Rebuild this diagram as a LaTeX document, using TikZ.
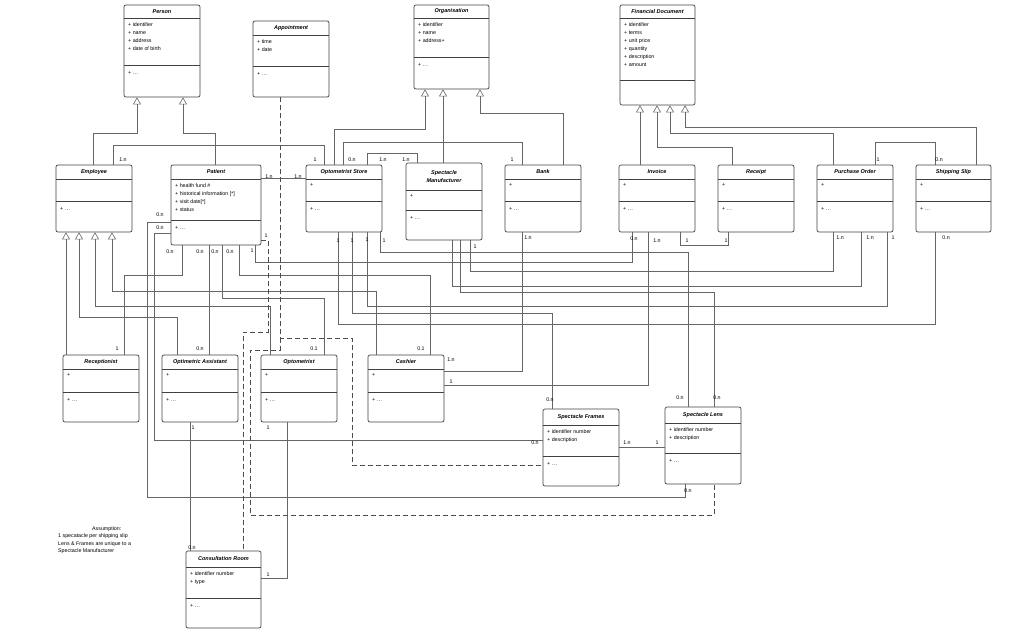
\documentclass[tikz,border=0pt]{standalone}
\usepackage{fontspec}
\setmainfont{Liberation Sans}
\usetikzlibrary{arrows.meta,fit}
\begin{document}
\begin{tikzpicture}[x=1pt,y=-1pt,
  box/.style={draw=black!75,line width=0.7pt,rounded corners=2pt,inner sep=0pt},
  ttl/.style={font=\fontsize{5.5}{7.5}\selectfont\bfseries\itshape,align=center},
  txt/.style={font=\fontsize{5.3}{8}\selectfont,align=left,anchor=north west,inner sep=0pt},
  lbl/.style={font=\fontsize{5.3}{6}\selectfont,inner sep=0.5pt},
  as/.style={draw=black!60,line width=0.6pt},
  gen/.style={draw=black!60,line width=0.6pt,-{Triangle[open,length=7pt,width=8pt]}},
  dsh/.style={draw=black!70,line width=0.6pt,dash pattern=on 5pt off 3pt}]
\useasboundingbox (0,0) rectangle (1024,635);
\newcommand\At{}
\newcommand\cls[9]{%
  \node[box,fit={(#2,#3)(#4,#5)}] (#1) {};
  \draw[black!75,line width=0.6pt] (#2,#6) -- (#4,#6) (#2,#7) -- (#4,#7);
  \node[ttl] at ({(#2+#4)/2},{(#3+#6)/2}) {#8};
  \node[txt] at (#2+4,#6+4) {\At};
  \node[txt] at (#2+4,#7+6) {#9};}
\renewcommand\At{+ identifier\\+ name\\+ address\\+ date of birth}
\cls{Person}{124}{5}{200}{97}{18}{65}{Person}{+ \dots}
\renewcommand\At{+ time\\+ date}
\cls{Appt}{253}{21}{329}{97}{35}{66}{Appointment}{+ \dots}
\renewcommand\At{+ identifier\\+ name\\+ address+}
\cls{Org}{414}{5}{489}{89}{18}{57}{Organisation}{+ \dots}
\renewcommand\At{+ identifier\\+ terms\\+ unit price\\+ quantity\\+ description\\+ amount}
\cls{Fin}{620}{5}{695}{105}{18}{80}{Financial Document}{}
\renewcommand\At{}
\cls{Employee}{56}{165}{132}{232}{179}{201}{Employee}{+ \dots}
\renewcommand\At{+ health fund \#\\+ historical information [*]\\+ visit date[*]\\+ status}
\cls{Patient}{171}{165}{261}{245}{179}{220}{Patient}{+ \dots}
\renewcommand\At{+}
\cls{Store}{306}{165}{382}{232}{179}{201}{Optometrist Store}{+ \dots}
\cls{Manu}{406}{163}{482}{240}{190}{210}{Spectacle\\Manufacturer}{+ \dots}
\cls{Bank}{505}{165}{581}{232}{179}{201}{Bank}{+ \dots}
\cls{Invoice}{619}{165}{695}{232}{179}{201}{Invoice}{+ \dots}
\cls{Receipt}{718}{165}{794}{232}{179}{201}{Receipt}{+ \dots}
\cls{PO}{817}{165}{893}{232}{179}{201}{Purchase Order}{+ \dots}
\cls{Ship}{916}{165}{991}{232}{179}{201}{Shipping Slip}{+ \dots}
\cls{Recep}{63}{355}{139}{422}{369}{392}{Receptionist}{+ \dots}
\cls{OA}{162}{355}{238}{422}{369}{392}{Optimetric Assistant}{+ \dots}
\cls{Optom}{261}{355}{337}{422}{369}{392}{Optometrist}{+ \dots}
\cls{Cashier}{368}{355}{444}{422}{369}{392}{Cashier}{+ \dots}
\renewcommand\At{+ identifier number\\+ description}
\cls{Frames}{543}{409}{619}{486}{425}{456}{Spectacle Frames}{+ \dots}
\cls{Lens}{665}{407}{741}{484}{423}{453}{Spectacle Lens}{+ \dots}
\renewcommand\At{+ identifier number\\+ type}
\cls{Room}{186}{551}{261}{628}{567}{598}{Consultation Room}{+ \dots}
% generalisations
\draw[gen] (Employee.north -| 93,0) |- (137,133) -- (Person.south -| 137,0);
\draw[gen] (Patient.north -| 215,0) |- (183,133) -- (Person.south -| 183,0);
\draw[gen] (Store.north -| 334,0) |- (425,129) -- (Org.south -| 425,0);
\draw[gen] (Manu.north -| 443,0) -- (Org.south -| 443,0);
\draw[gen] (Bank.north -| 563,0) |- (480,113) -- (Org.south -| 480,0);
\draw[gen] (Invoice.north -| 640,0) -- (Fin.south -| 640,0);
\draw[gen] (Receipt.north -| 732,0) |- (657,147) -- (Fin.south -| 657,0);
\draw[gen] (PO.north -| 833,0) |- (670,133) -- (Fin.south -| 670,0);
\draw[gen] (Ship.north -| 976,0) |- (685,127) -- (Fin.south -| 685,0);
\draw[gen] (Recep.north -| 66,0) -- (Employee.south -| 66,0);
\draw[gen] (OA.north -| 177,0) |- (79,317) -- (Employee.south -| 79,0);
\draw[gen] (Optom.north -| 270,0) |- (95,306) -- (Employee.south -| 95,0);
\draw[gen] (Cashier.north -| 376,0) |- (112,291) -- (Employee.south -| 112,0);
% associations
\draw[as] (Employee.north -| 113,0) |- (324,145) -- (Store.north -| 324,0);
\node[lbl] at (123,160) {1.n}; \node[lbl] at (315,160) {1};
\draw[as] (Store.north -| 343,0) |- (522,142) -- (Bank.north -| 522,0);
\node[lbl] at (352,160) {0.n}; \node[lbl] at (512,160) {1};
\draw[as] (Store.north -| 367,0) |- (417,153) -- (Manu.north -| 417,0);
\node[lbl] at (383,160) {1.n}; \node[lbl] at (406,160) {1.n};
\draw[as] (PO.north -| 875,0) |- (935,142) -- (Ship.north -| 935,0);
\node[lbl] at (878,160) {1}; \node[lbl] at (939,160) {0.n};
\draw[as] (Patient.east |- 0,178) -- (Store.west |- 0,178);
\node[lbl] at (269,177) {1.n}; \node[lbl] at (298,177) {1.n};
\draw[as] (Patient.south -| 182,0) |- (124,275) -- (Recep.north -| 124,0);
\node[lbl] at (170,252) {0.n}; \node[lbl] at (117,349) {1};
\draw[as] (Patient.south -| 209,0) -- (OA.north -| 209,0);
\node[lbl] at (200,252) {0.n}; \node[lbl] at (200,349) {0.n};
\draw[as] (Patient.south -| 222,0) |- (324,298) -- (Optom.north -| 324,0);
\node[lbl] at (215,252) {0.n}; \node[lbl] at (314,349) {0.1};
\draw[as] (Patient.south -| 239,0) |- (430,275) -- (Cashier.north -| 430,0);
\node[lbl] at (230,252) {0.n}; \node[lbl] at (421,349) {0.1};
\draw[as] (Patient.south -| 255,0) |- (632,262) -- (Invoice.south -| 632,0);
\node[lbl] at (252,251) {1}; \node[lbl] at (634,239) {0.n};
\draw[as] (Patient.west |- 0,222) -| (147,497) -| (Lens.south -| 685,0);
\node[lbl] at (160,215) {0.n}; \node[lbl] at (688,491) {0.n};
\draw[as] (Patient.west |- 0,233) -| (154,440) -- (Frames.west |- 0,440);
\node[lbl] at (160,228) {0.n}; \node[lbl] at (535,443) {0.n};
\draw[as] (Store.south -| 338,0) |- (935,324) -- (Ship.south -| 935,0);
\node[lbl] at (338,241) {1}; \node[lbl] at (946,238) {0.n};
\draw[as] (Store.south -| 352,0) |- (552,313) -- (Frames.north -| 552,0);
\node[lbl] at (352,241) {1}; \node[lbl] at (550,400) {0.n};
\draw[as] (Store.south -| 367,0) |- (887,306) -- (PO.south -| 887,0);
\node[lbl] at (367,240) {1}; \node[lbl] at (893,238) {1};
\draw[as] (Store.south -| 380,0) |- (688,252) -- (Lens.north -| 688,0);
\node[lbl] at (384,241) {1}; \node[lbl] at (680,398) {0.n};
\draw[as] (Manu.south -| 470,0) |- (833,271) -- (PO.south -| 833,0);
\node[lbl] at (475,247) {1}; \node[lbl] at (840,238) {1.n};
\draw[as] (Manu.south -| 452,0) |- (861,286) -- (PO.south -| 861,0);
\node[lbl] at (870,238) {1.n};
\draw[as] (Manu.south -| 460,0) |- (714,292) -- (Lens.north -| 714,0);
\node[lbl] at (717,398) {0.n};
\draw[as] (Bank.south -| 522,0) |- (Cashier.east |- 0,371);
\node[lbl] at (528,238) {1.n}; \node[lbl] at (451,360) {1.n};
\draw[as] (Invoice.south -| 648,0) |- (Cashier.east |- 0,385);
\node[lbl] at (657,241) {1.n}; \node[lbl] at (451,382) {1};
\draw[as] (Invoice.south -| 680,0) |- (728,245) -- (Receipt.south -| 728,0);
\node[lbl] at (687,241) {1}; \node[lbl] at (726,241) {1};
\draw[as] (Frames.east |- 0,447) -- (Lens.west |- 0,447);
\node[lbl] at (627,443) {1.n}; \node[lbl] at (657,443) {1};
\draw[as] (OA.south -| 190,0) -- (Room.north -| 190,0);
\node[lbl] at (193,428) {1}; \node[lbl] at (192,548) {0.n};
\draw[as] (Optom.south -| 287,0) |- (Room.east |- 0,578);
\node[lbl] at (268,428) {1}; \node[lbl] at (268,575) {1};
% dashed
\draw[dsh] (Appt.south -| 280,0) -- (280,338) -| (352,465) -- (Frames.west |- 0,465);
\draw[dsh] (280,338) -- (280,350) -| (250,515) -| (Lens.south -| 714,0);
\draw[dsh] (Patient.east |- 0,240) -| (268,332) -| (Room.north -| 243,0);
\node[lbl] at (266,236) {1};
% assumption
\node[font=\fontsize{5.3}{7.5}\selectfont,align=left,anchor=north west,inner sep=0] at (58,526)
 {\hspace*{34pt}Assumption:\\1 specatacle per shipping slip\\Lens \& Frames are unique to a\\Spectacle Manufacturer};
\end{tikzpicture}
\end{document}
